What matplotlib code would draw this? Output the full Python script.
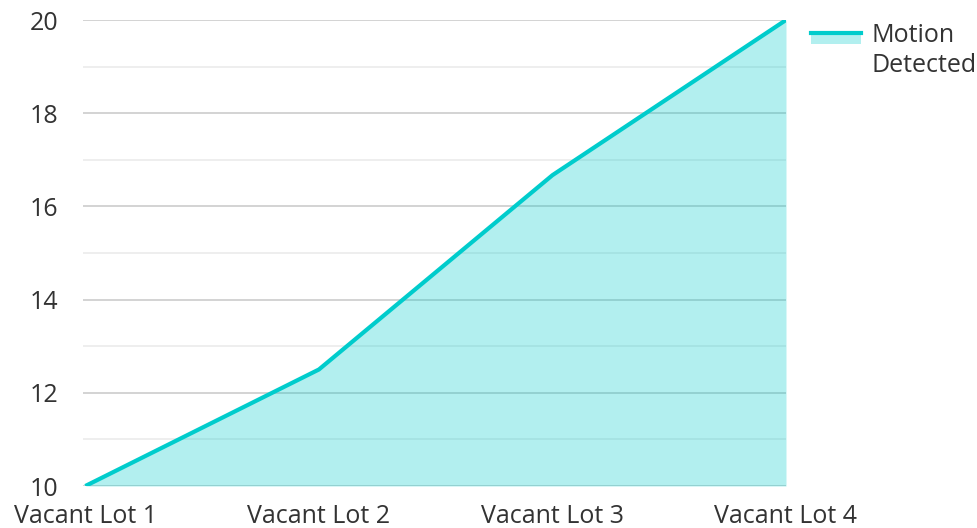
import matplotlib
matplotlib.use("Agg")
import matplotlib.pyplot as plt
from matplotlib.lines import Line2D
from matplotlib.patches import Rectangle

categories = ["Vacant Lot 1", "Vacant Lot 2", "Vacant Lot 3", "Vacant Lot 4"]
motion_detected = [10, 12.5, 16.67, 20]
series_name = "Motion\nDetected"
y_ticks = [10, 12, 14, 16, 18, 20]
y_minor = [11, 13, 15, 17, 19]

plt.rcParams['font.family'] = ['Open Sans', 'DejaVu Sans']
W, H = 978, 528
fig = plt.figure(figsize=(W / 100, H / 100), dpi=100)
ax = fig.add_axes([83 / W, 1 - 486 / H, (786 - 83) / W, (486 - 20) / H])

line_color = "#00cccc"
x = list(range(len(categories)))

for v in y_ticks:
    ax.axhline(v, color="#cccccc", lw=1.2, zorder=1)
for v in y_minor:
    ax.axhline(v, color="#ebebeb", lw=1.2, zorder=1)

ax.fill_between(x, 10, motion_detected, color=line_color, alpha=0.3, lw=0, zorder=2)
ax.plot(x, motion_detected, color=line_color, lw=3, zorder=3, solid_capstyle='butt')

ax.set_xlim(-0.01, 3)
ax.set_ylim(10, 20)
ax.set_yticks(y_ticks)
ax.set_yticklabels([str(v) for v in y_ticks])
ax.set_xticks(x)
ax.set_xticklabels(categories)
ax.tick_params(axis='both', length=0, labelsize=18, labelcolor="#333333")
ax.tick_params(axis='y', pad=18)
ax.tick_params(axis='x', pad=13)
for s in ax.spines.values():
    s.set_visible(False)

# legend
fig.patches.append(Rectangle((811 / W, 1 - 44 / H), 50 / W, 10 / H, transform=fig.transFigure,
                             facecolor=line_color, alpha=0.3, lw=0))
fig.lines.append(Line2D([811 / W, 861 / W], [1 - 33 / H, 1 - 33 / H], transform=fig.transFigure,
                        color=line_color, lw=3))
fig.text(872 / W, 1 - 35 / H, "Motion", fontsize=18, color="#333333", va='center', ha='left')
fig.text(872 / W, 1 - 65 / H, "Detected", fontsize=18, color="#333333", va='center', ha='left')

fig.savefig("out.png", dpi=100)
